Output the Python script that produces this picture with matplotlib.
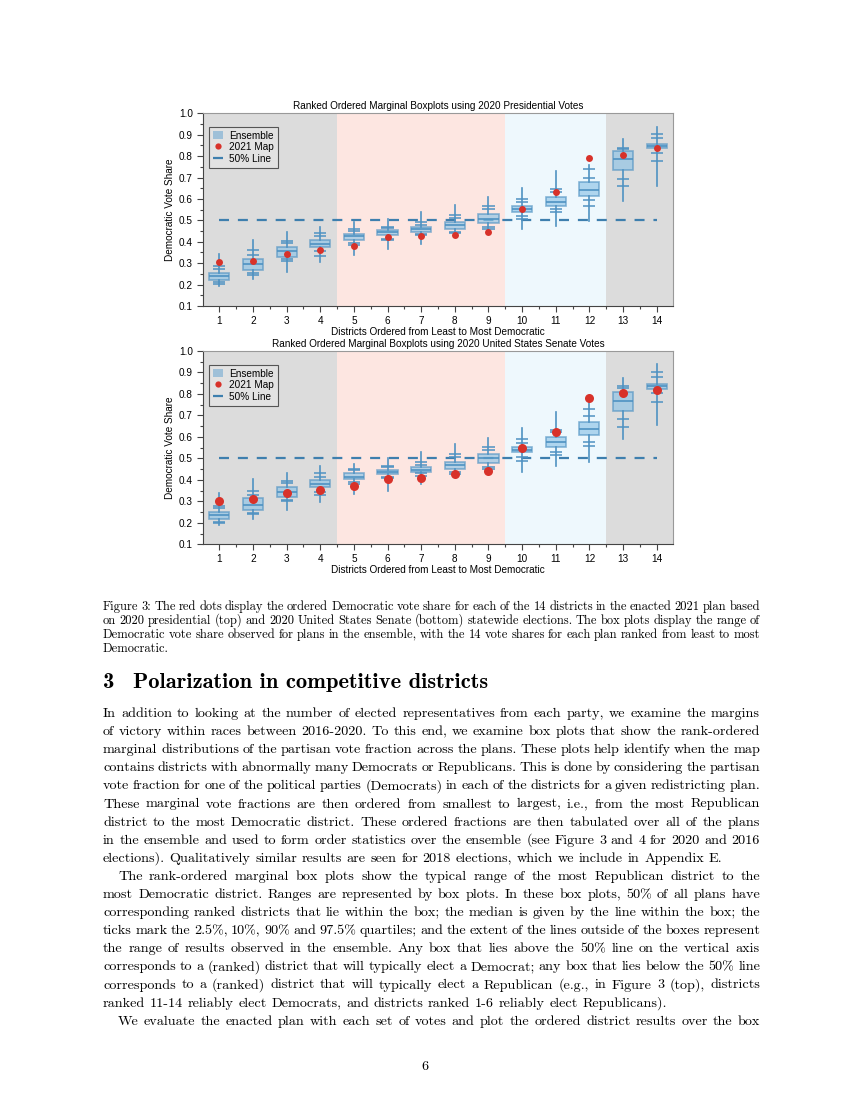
import numpy as np
import matplotlib
matplotlib.use('Agg')
import matplotlib.pyplot as plt
from matplotlib.lines import Line2D
from matplotlib.patches import Patch

districts = np.arange(1, 15)

# 2020 presidential votes
pres_lo   = [0.195,0.225,0.26,0.305,0.34,0.365,0.39,0.43,0.44,0.458,0.474,0.497,0.592,0.66]
pres_p025 = [0.205,0.245,0.31,0.335,0.385,0.41,0.43,0.44,0.458,0.505,0.539,0.568,0.66,0.777]
pres_p10  = [0.212,0.255,0.32,0.355,0.395,0.415,0.435,0.447,0.47,0.52,0.553,0.595,0.692,0.816]
pres_q1   = [0.221,0.27,0.33,0.374,0.408,0.43,0.447,0.46,0.489,0.538,0.567,0.615,0.735,0.836]
pres_med  = [0.24,0.295,0.355,0.39,0.425,0.445,0.46,0.478,0.505,0.553,0.587,0.642,0.785,0.847]
pres_q3   = [0.255,0.32,0.377,0.408,0.438,0.455,0.47,0.494,0.53,0.568,0.61,0.678,0.824,0.857]
pres_p90  = [0.272,0.34,0.395,0.425,0.45,0.465,0.48,0.51,0.552,0.585,0.634,0.699,0.835,0.883]
pres_p975 = [0.287,0.36,0.405,0.44,0.46,0.47,0.49,0.525,0.567,0.6,0.645,0.738,0.84,0.903]
pres_hi   = [0.345,0.41,0.445,0.47,0.49,0.505,0.54,0.572,0.607,0.652,0.73,0.76,0.88,0.937]
pres_map  = [0.307,0.31,0.345,0.36,0.38,0.42,0.425,0.432,0.447,0.553,0.631,0.793,0.805,0.836]

# 2020 US senate votes
sen_lo   = [0.19,0.22,0.26,0.295,0.335,0.35,0.38,0.42,0.445,0.438,0.465,0.485,0.59,0.655]
sen_p025 = [0.2,0.24,0.3,0.33,0.38,0.41,0.42,0.427,0.452,0.488,0.516,0.558,0.648,0.764]
sen_p10  = [0.205,0.245,0.305,0.345,0.39,0.415,0.43,0.437,0.461,0.508,0.531,0.578,0.682,0.803]
sen_q1   = [0.216,0.262,0.321,0.365,0.402,0.425,0.437,0.449,0.48,0.528,0.554,0.609,0.72,0.823]
sen_med  = [0.235,0.285,0.345,0.38,0.415,0.437,0.448,0.467,0.5,0.54,0.578,0.635,0.769,0.837]
sen_q3   = [0.252,0.314,0.368,0.399,0.433,0.447,0.46,0.485,0.52,0.552,0.601,0.671,0.808,0.848]
sen_p90  = [0.27,0.33,0.385,0.415,0.445,0.46,0.47,0.505,0.54,0.57,0.621,0.697,0.829,0.879]
sen_p975 = [0.28,0.35,0.395,0.43,0.45,0.465,0.485,0.52,0.555,0.59,0.632,0.73,0.835,0.9]
sen_hi   = [0.34,0.405,0.43,0.465,0.475,0.5,0.53,0.567,0.594,0.64,0.715,0.76,0.876,0.938]
sen_map  = [0.301,0.309,0.34,0.352,0.373,0.402,0.41,0.427,0.44,0.547,0.621,0.783,0.806,0.818]

titles = ['Ranked Ordered Marginal Boxplots using 2020 Presidential Votes',
          'Ranked Ordered Marginal Boxplots using 2020 United States Senate Votes']

caption = [
    'Figure 3: The red dots display the ordered Democratic vote share for each of the 14 districts in the enacted 2021 plan based',
    'on 2020 presidential (top) and 2020 United States Senate (bottom) statewide elections.  The box plots display the range of',
    'Democratic vote share observed for plans in the ensemble, with the 14 vote shares for each plan ranked from least to most',
    'Democratic.',
]
heading_num = '3'
heading = 'Polarization in competitive districts'
body = [
    'In addition to looking at the number of elected representatives from each party, we examine the margins',
    'of victory within races between 2016-2020.  To this end, we examine box plots that show the rank-ordered',
    'marginal distributions of the partisan vote fraction across the plans.  These plots help identify when the map',
    'contains districts with abnormally many Democrats or Republicans.  This is done by considering the partisan',
    'vote fraction for one of the political parties (Democrats) in each of the districts for a given redistricting plan.',
    'These marginal vote fractions are then ordered from smallest to largest, i.e., from the most Republican',
    'district to the most Democratic district.  These ordered fractions are then tabulated over all of the plans',
    'in the ensemble and used to form order statistics over the ensemble (see Figure 3 and 4 for 2020 and 2016',
    'elections).  Qualitatively similar results are seen for 2018 elections, which we include in Appendix E.',
    'The rank-ordered marginal box plots show the typical range of the most Republican district to the',
    'most Democratic district.  Ranges are represented by box plots.  In these box plots, 50% of all plans have',
    'corresponding ranked districts that lie within the box; the median is given by the line within the box; the',
    'ticks mark the 2.5%, 10%, 90% and 97.5% quartiles; and the extent of the lines outside of the boxes represent',
    'the range of results observed in the ensemble.  Any box that lies above the 50% line on the vertical axis',
    'corresponds to a (ranked) district that will typically elect a Democrat; any box that lies below the 50% line',
    'corresponds to a (ranked) district that will typically elect a Republican (e.g., in Figure 3 (top), districts',
    'ranked 11-14 reliably elect Democrats, and districts ranked 1-6 reliably elect Republicans).',
    'We evaluate the enacted plan with each set of votes and plot the ordered district results over the box',
]
body_indent = [0,0,0,0,0,0,0,0,0,1,0,0,0,0,0,0,0,1]
body_last = [0,0,0,0,0,0,0,0,1,0,0,0,0,0,0,0,1,0]

sans = ['Liberation Sans', 'DejaVu Sans']
serif = ['cmr10', 'DejaVu Serif']
plt.rcParams['axes.formatter.use_mathtext'] = True

fig = plt.figure(figsize=(8.5, 11), dpi=100)
W, H = 850.0, 1100.0

edge = '#4f92c2'
gray_bg = '#dcdcdc'


def draw_panel(ax, lo, p025, p10, q1, med, q3, p90, p975, hi, dots, title, msize):
    ax.axvspan(0.5, 4.5, color=gray_bg, lw=0, zorder=0)
    ax.axvspan(4.5, 9.5, color='#fde6e1', lw=0, zorder=0)
    ax.axvspan(9.5, 12.5, color='#eef8fd', lw=0, zorder=0)
    ax.axvspan(12.5, 14.5, color=gray_bg, lw=0, zorder=0)
    stats = []
    for i in range(len(districts)):
        stats.append(dict(med=med[i], q1=q1[i], q3=q3[i], whislo=lo[i], whishi=hi[i], fliers=[]))
    ax.bxp(stats, positions=districts, widths=0.6, showcaps=False, showfliers=False,
           patch_artist=True,
           boxprops=dict(facecolor='#8cc3e6', alpha=0.65, edgecolor=edge, lw=1.2),
           medianprops=dict(color=edge, lw=1.2),
           whiskerprops=dict(color=edge, lw=1.2), zorder=3)
    for arr in (p025, p10, p90, p975):
        ax.hlines(arr, districts - 0.18, districts + 0.18, color=edge, lw=1.1, zorder=3)
    ax.hlines(0.5, 1, 14, color='#3e7fae', lw=1.6, linestyles=(0, (4.5, 4)), zorder=2)
    ax.plot(districts, dots, 'o', color='#d8322a', ms=msize, mec='none', zorder=4)
    ax.set_xlim(0.5, 14.5)
    ax.set_ylim(0.1, 1.0)
    ax.set_xticks(districts)
    ax.set_xticks(np.arange(1.5, 14.5, 1), minor=True)
    ax.set_yticks(np.arange(0.1, 1.01, 0.1))
    ax.set_yticks(np.arange(0.15, 1.0, 0.1), minor=True)
    ax.set_yticklabels(['%.1f' % v for v in np.arange(0.1, 1.01, 0.1)])
    ax.tick_params(which='major', length=4, width=0.8, labelsize=7.2, color='#444444', pad=3)
    ax.tick_params(which='minor', length=2.5, width=0.8, color='#444444')
    for lab in ax.get_xticklabels() + ax.get_yticklabels():
        lab.set_family(sans)
    for s in ax.spines.values():
        s.set_color('#999999')
        s.set_linewidth(0.8)
    ax.spines['left'].set_color('#444444')
    ax.spines['bottom'].set_color('#444444')
    ax.set_title(title, fontsize=7.2, family=sans, pad=3)
    ax.set_xlabel('Districts Ordered from Least to Most Democratic', fontsize=7.2, family=sans, labelpad=1)
    ax.set_ylabel('Democratic Vote Share', fontsize=7.2, family=sans, labelpad=3)
    handles = [Patch(facecolor='#9fc0d8', edgecolor='none'),
               Line2D([], [], marker='o', ls='none', color='#d8322a', ms=4.5, mec='none'),
               Line2D([], [], color='#3e7fae', lw=1.6, ls=(0, (4.5, 4)))]
    leg = ax.legend(handles, ['Ensemble', '2021 Map', '50% Line'], loc='upper left',
                    bbox_to_anchor=(0.014, 0.93), borderaxespad=0,
                    prop=dict(family=sans, size=7.2), handlelength=1.0, handleheight=0.9,
                    handletextpad=0.6, labelspacing=0.15, borderpad=0.4, fancybox=False,
                    framealpha=1.0, facecolor='#e2e2e2', edgecolor='#555555')
    leg.get_frame().set_linewidth(0.8)


ax1 = fig.add_axes([202.5 / W, 1 - 306 / H, 471 / W, 192.7 / H])
draw_panel(ax1, pres_lo, pres_p025, pres_p10, pres_q1, pres_med, pres_q3, pres_p90,
           pres_p975, pres_hi, pres_map, titles[0], 5)
ax2 = fig.add_axes([202.5 / W, 1 - 544.3 / H, 471 / W, 193.3 / H])
draw_panel(ax2, sen_lo, sen_p025, sen_p10, sen_q1, sen_med, sen_q3, sen_p90,
           sen_p975, sen_hi, sen_map, titles[1], 6.5)

renderer = fig.canvas.get_renderer()


def put_line(txt, x0, x1, ybase, size, justify=True):
    words = txt.split()
    objs = [fig.text(0, 1 - ybase / H, w, fontsize=size, family=serif, va='baseline', ha='left')
            for w in words]
    widths = [o.get_window_extent(renderer).width for o in objs]
    if justify and len(words) > 1:
        gap = (x1 - x0 - sum(widths)) / (len(words) - 1)
    else:
        gap = size * 100 / 72 * 0.33
    x = x0
    for o, w in zip(objs, widths):
        o.set_x(x / W)
        x += w + gap


left, right = 103, 760
for i, line in enumerate(caption):
    put_line(line, left, right, 610 + 14 * i, 9.0, justify=(i < len(caption) - 1))

hfont = ['cmb10', 'DejaVu Serif']
fig.text(left / W, 1 - 688 / H, heading_num, fontsize=16.2, family=hfont,
         fontweight='bold', va='baseline')
fig.text(133 / W, 1 - 688 / H, heading, fontsize=16.2, family=hfont,
         fontweight='bold', va='baseline')

for i, line in enumerate(body):
    x0 = left + 15 * body_indent[i]
    put_line(line, x0, right, 717 + 18.1 * i, 10.2, justify=not body_last[i])

fig.text(425 / W, 1 - 1070 / H, '6', fontsize=10.2, family=serif, va='baseline', ha='center')

fig.savefig('out.png', dpi=100)
